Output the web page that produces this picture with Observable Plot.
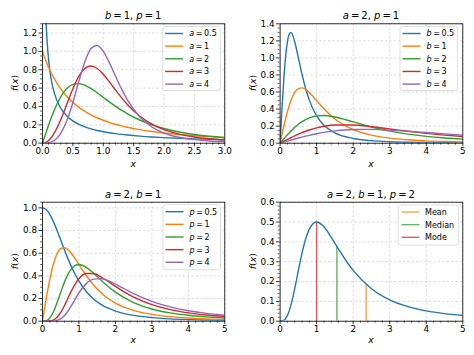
<!DOCTYPE html>
<html><head><meta charset="utf-8">
<script src="https://cdn.jsdelivr.net/npm/d3@7"></script>
<script src="https://cdn.jsdelivr.net/npm/@observablehq/plot@0.6"></script>
<style>
body{margin:0;background:#fff}
#root{position:relative;width:474px;height:355px;overflow:hidden;background:#fff}
.p{position:absolute}
#ov{position:absolute;left:0;top:0;pointer-events:none}
</style>
</head><body><div id="root"></div>
<script>
// ---------- data ----------
const COLORS = ["#1f77b4", "#ff7f0e", "#2ca02c", "#d62728", "#9467bd"];

// Panel 1: b = 1, p = 1, varying a
const P1_X = [0, .03, .05, .1, .15, .2, .3, .4, .5, .6, .7, .8, .9, 1.0, 1.1, 1.2, 1.3, 1.4, 1.6, 1.8, 2.0, 2.25, 2.5, 2.75, 3.0];
const P1_A05 = [null, 2.097, 1.494, .913, .671, .534, .381, .2967, .2426, .2050, .1771, .1558, .1388, .125, .1136, .1040, .0957, .0887, .0771, .0680, .0607, .0533, .0475, .0427, .0387];
const P1_A1 = [1, .9426, .907, .8264, .7561, .6944, .5917, .5102, .4444, .3906, .3460, .3086, .2770, .25, .2268, .2066, .1890, .1736, .1479, .1276, .1111, .0947, .0816, .0711, .0625];
const P1_A2 = [0, .0599, .0995, .1961, .2869, .3698, .5050, .5945, .64, .6488, .6306, .5949, .5494, .5, .4504, .4031, .3593, .3196, .2525, .2002, .16, .1224, .0951, .0750, .06];
const P1_A3 = [0, .0027, .0075, .0299, .0670, .1181, .2560, .4240, .5926, .7304, .8150, .8398, .8129, .75, .6681, .5805, .4960, .4195, .2957, .2082, .1481, .0989, .0678, .0478, .0344];
const P1_A4 = [0, .0001, .0005, .004, .0135, .0319, .1063, .2434, .4429, .6771, .8922, 1.0307, 1.0632, 1.0, .8768, .7317, .5910, .4682, .2872, .1765, .1107, .0643, .0389, .0246, .0161];
const P1_LABELS = ["0.5", "1", "2", "3", "4"];

// Panel 2: a = 2, p = 1, varying b
const P2_X = [0, .05, .1, .15, .2, .25, .3, .4, .5, .6, .7, .8, 1.0, 1.2, 1.5, 2.0, 2.5, 3.0, 3.5, 4.0, 4.5, 5.0];
const P2_B05 = [0, .3921, .7396, 1.0100, 1.1891, 1.28, 1.2976, 1.1898, 1.0, .8062, .6391, .5050, .32, .2101, .12, .0554, .0296, .0175, .0112, .0076, .0054, .0039];
const P2_B1 = [0, .0995, .1961, .2869, .3698, .4429, .5050, .5945, .64, .6488, .6306, .5949, .5, .4031, .2840, .16, .0951, .06, .0399, .0277, .0199, .0148];
const P2_B2 = [0, .0250, .0497, .0742, .0980, .1212, .1435, .1849, .2215, .2525, .2778, .2973, .32, .3244, .3072, .25, .1904, .1420, .1060, .08, .0612, .0476];
const P2_B3 = [0, .0111, .0222, .0332, .0441, .0548, .0654, .0858, .1052, .1233, .1399, .1550, .18, .1982, .2133, .2130, .1935, .1667, .1395, .1152, .0947, .0779];
const P2_B4 = [0, .0063, .0125, .0187, .0249, .0310, .0371, .0490, .0606, .0717, .0824, .0925, .1107, .1263, .1441, .16, .1616, .1536, .1403, .125, .1096, .0952];
const P2_LABELS = ["0.5", "1", "2", "3", "4"];

// Panel 3: a = 2, b = 1, varying p
const P3_X = [0, .1, .2, .3, .4, .5, .6, .7, .8, .9, 1.0, 1.2, 1.4, 1.6, 1.8, 2.0, 2.5, 3.0, 3.5, 4.0, 4.5, 5.0];
const P3_P05 = [1, .9852, .9429, .8787, .8004, .7155, .6305, .5498, .4761, .4107, .3536, .2624, .1964, .1489, .1145, .0894, .0512, .0316, .0207, .0143, .0102, .0075];
const P3_P1 = [0, .1961, .3698, .5050, .5945, .64, .6488, .6306, .5949, .5494, .5, .4031, .3196, .2525, .2002, .16, .0951, .06, .0399, .0277, .0199, .0148];
const P3_P2 = [0, .0039, .0284, .0834, .1640, .256, .3435, .4148, .4643, .4918, .5, .4758, .4232, .3631, .3060, .256, .1640, .108, .0737, .0521, .0380, .0284];
const P3_P3 = [0, .0001, .0016, .0103, .0339, .0768, .1364, .2046, .2718, .3301, .375, .4212, .4204, .3917, .3508, .3072, .2121, .1458, .1022, .0736, .0543, .0410];
const P3_P4 = [0, 0, .0001, .0011, .0062, .0205, .0481, .0897, .1414, .1970, .25, .3315, .3711, .3756, .3574, .3277, .2438, .1750, .1260, .0923, .0690, .0526];
const P3_LABELS = ["0.5", "1", "2", "3", "4"];

// Panel 4: a = 2, b = 1, p = 2 with summary statistics
const P4_X = P3_X;
const P4_Y = P3_P2;
const P4_STAT_NAMES = ["Mean", "Median", "Mode"];
const P4_STAT_X = [2.356, 1.554, 1.0];
const P4_STAT_Y = [.1861, .3770, .5];
const P4_STAT_COLORS = ["#ff7f0e", "#2ca02c", "#d62728"];

// ticks
const X_TICKS_P1 = [0, .5, 1, 1.5, 2, 2.5, 3];
const X_TICKS_5 = [0, 1, 2, 3, 4, 5];
const Y_TICKS_P1 = [0, .2, .4, .6, .8, 1.0, 1.2];
const Y_TICKS_P2 = [0, .2, .4, .6, .8, 1.0, 1.2, 1.4];
const Y_TICKS_P3 = [0, .2, .4, .6, .8, 1.0];
const Y_TICKS_P4 = [0, .1, .2, .3, .4, .5, .6];

// ---------- helpers ----------
function minors(lo, hi, step, majors) {
  const out = [];
  const n = Math.round((hi - lo) / step);
  for (let i = 0; i <= n; i++) {
    const v = Math.round((lo + i * step) * 1e6) / 1e6;
    if (!majors.some(m => Math.abs(m - v) < 1e-9)) out.push(v);
  }
  return out;
}
const rows = (xs, ys) => xs.map((x, j) => ({x, y: ys[j]})).filter(d => d.y != null);

function panel(cfg) {
  const marks = [
    Plot.gridX({ticks: cfg.xTicks, stroke: "#c8c8c8", strokeOpacity: 1, strokeWidth: 0.7, strokeDasharray: "2.2,2.2"}),
    Plot.gridY({ticks: cfg.yTicks, stroke: "#c8c8c8", strokeOpacity: 1, strokeWidth: 0.7, strokeDasharray: "2.2,2.2"}),
    ...(cfg.pre || []),
    ...cfg.series.map((ys, i) => Plot.line(rows(cfg.xs, ys), {
      x: "x", y: "y", stroke: cfg.colors[i], strokeWidth: 1.4, curve: "monotone-x", clip: true
    })),
    ...(cfg.post || []),
    Plot.frame({stroke: "#000", strokeWidth: 0.8}),
    Plot.axisX({ticks: cfg.xTicks, tickSize: 3.5, tickPadding: 1.5, tickFormat: cfg.fx, label: null, strokeWidth: 0.8}),
    Plot.axisX({ticks: minors(cfg.xDomain[0], cfg.xDomain[1], cfg.xMinor, cfg.xTicks), tickSize: 2, tickFormat: () => "", label: null, strokeWidth: 0.6}),
    Plot.axisY({ticks: cfg.yTicks, tickSize: 3.5, tickPadding: 2, tickFormat: d3.format(".1f"), label: null, strokeWidth: 0.8}),
    Plot.axisY({ticks: minors(cfg.yDomain[0], cfg.yDomain[1], cfg.yMinor, cfg.yTicks), tickSize: 2, tickFormat: () => "", label: null, strokeWidth: 0.6})
  ];
  const svg = Plot.plot({
    width: 237, height: cfg.h,
    marginLeft: cfg.ml, marginRight: cfg.mr, marginTop: cfg.mt, marginBottom: cfg.mb,
    x: {domain: cfg.xDomain}, y: {domain: cfg.yDomain},
    style: {fontFamily: "DejaVu Sans", fontSize: "8.8px", background: "transparent", color: "#000", overflow: "visible"},
    marks
  });
  svg.classList.add("p");
  svg.style.left = cfg.left + "px";
  svg.style.top = cfg.top + "px";
  return svg;
}

const root = document.getElementById("root");
const TOP = {top: 0, h: 175, mt: 23.3, mb: 32.3};
const BOT = {top: 175, h: 180, mt: 26.7, mb: 34.3};
const LEFT = {left: 0, ml: 42, mr: 12.7};
const RIGHT = {left: 237, ml: 42.6, mr: 11.7};

root.appendChild(panel({...TOP, ...LEFT, xs: P1_X, series: [P1_A05, P1_A1, P1_A2, P1_A3, P1_A4], colors: COLORS,
  xDomain: [0, 3], yDomain: [0, 1.3], xTicks: X_TICKS_P1, yTicks: Y_TICKS_P1, xMinor: 0.1, yMinor: 0.05, fx: d3.format(".1f")}));
root.appendChild(panel({...TOP, ...RIGHT, xs: P2_X, series: [P2_B05, P2_B1, P2_B2, P2_B3, P2_B4], colors: COLORS,
  xDomain: [0, 5], yDomain: [0, 1.4], xTicks: X_TICKS_5, yTicks: Y_TICKS_P2, xMinor: 0.2, yMinor: 0.05, fx: d3.format("d")}));
root.appendChild(panel({...BOT, ...LEFT, xs: P3_X, series: [P3_P05, P3_P1, P3_P2, P3_P3, P3_P4], colors: COLORS,
  xDomain: [0, 5], yDomain: [0, 1.05], xTicks: X_TICKS_5, yTicks: Y_TICKS_P3, xMinor: 0.2, yMinor: 0.05, fx: d3.format("d")}));
const statRows = P4_STAT_NAMES.map((n, i) => ({n, x: P4_STAT_X[i], y: P4_STAT_Y[i]}));
root.appendChild(panel({...BOT, ...RIGHT, xs: P4_X, series: [P4_Y], colors: [COLORS[0]],
  xDomain: [0, 5], yDomain: [0, 0.6], xTicks: X_TICKS_5, yTicks: Y_TICKS_P4, xMinor: 0.2, yMinor: 0.02, fx: d3.format("d"),
  pre: statRows.map((d, i) => Plot.ruleX([d], {x: "x", y1: 0, y2: "y", stroke: P4_STAT_COLORS[i], strokeOpacity: 0.75, strokeWidth: 1.4}))}));

// ---------- overlay text: titles, axis labels, legends ----------
const it = s => `<tspan font-style="italic">${s}</tspan>`;
const TS = "\u2009";
const eq = (v, n) => `${it(v)}${TS}=${TS}${n}`;
const titles = [
  {x: 133.2, y: 19, parts: [["b", "1"], ["p", "1"]]},
  {x: 371, y: 19, parts: [["a", "2"], ["p", "1"]]},
  {x: 133.2, y: 198, parts: [["a", "2"], ["b", "1"]]},
  {x: 371, y: 198, parts: [["a", "2"], ["b", "1"], ["p", "2"]]}
];
let s = `<svg id="ov" width="474" height="355" font-family="DejaVu Sans">`;
for (const t of titles) {
  s += `<text x="${t.x}" y="${t.y}" text-anchor="middle" font-size="10px">${t.parts.map(p => eq(p[0], p[1])).join(", ")}</text>`;
}
for (const [x, y] of [[18.3, 83], [255.9, 83], [18.3, 261.2], [255.9, 261.2]]) {
  s += `<text transform="translate(${x},${y}) rotate(-90)" text-anchor="middle" font-size="9.3px">${it("f")}(${it("x")})</text>`;
}
for (const [x, y] of [[133.2, 166.7], [371, 166.7], [133.2, 342.7], [371, 342.7]]) {
  s += `<text x="${x}" y="${y}" text-anchor="middle" font-size="9.3px">${it("x")}</text>`;
}
const legends = [
  {x: 162.7, y: 26.5, w: 57.5, h: 64, v: "a", labels: P1_LABELS, colors: COLORS, l1: 2.5, l2: 20.5, tx: 26.5, op: 1},
  {x: 400, y: 26.5, w: 57.5, h: 64, v: "b", labels: P2_LABELS, colors: COLORS, l1: 2.5, l2: 20.5, tx: 26.5, op: 1},
  {x: 163, y: 204.7, w: 57.5, h: 65, v: "p", labels: P3_LABELS, colors: COLORS, l1: 2.5, l2: 20.5, tx: 26.5, op: 1},
  {x: 398.3, y: 205, w: 60, h: 40, v: null, labels: P4_STAT_NAMES, colors: P4_STAT_COLORS, l1: 3.4, l2: 21, tx: 26.7, op: 0.75}
];
for (const L of legends) {
  s += `<rect x="${L.x}" y="${L.y}" width="${L.w}" height="${L.h}" rx="2.5" fill="#fff" fill-opacity="0.8" stroke="#d6d6d6" stroke-width="0.8"/>`;
  L.labels.forEach((lab, i) => {
    const ry = L.y + 7 + i * 12.65;
    s += `<line x1="${L.x + L.l1}" x2="${L.x + L.l2}" y1="${ry}" y2="${ry}" stroke="${L.colors[i]}" stroke-opacity="${L.op}" stroke-width="1.4"/>`;
    const txt = L.v ? eq(L.v, lab) : lab;
    s += `<text x="${L.x + L.tx}" y="${ry + 2.9}" font-size="8px">${txt}</text>`;
  });
}
s += `</svg>`;
root.insertAdjacentHTML("beforeend", s);
</script>
</body></html>
